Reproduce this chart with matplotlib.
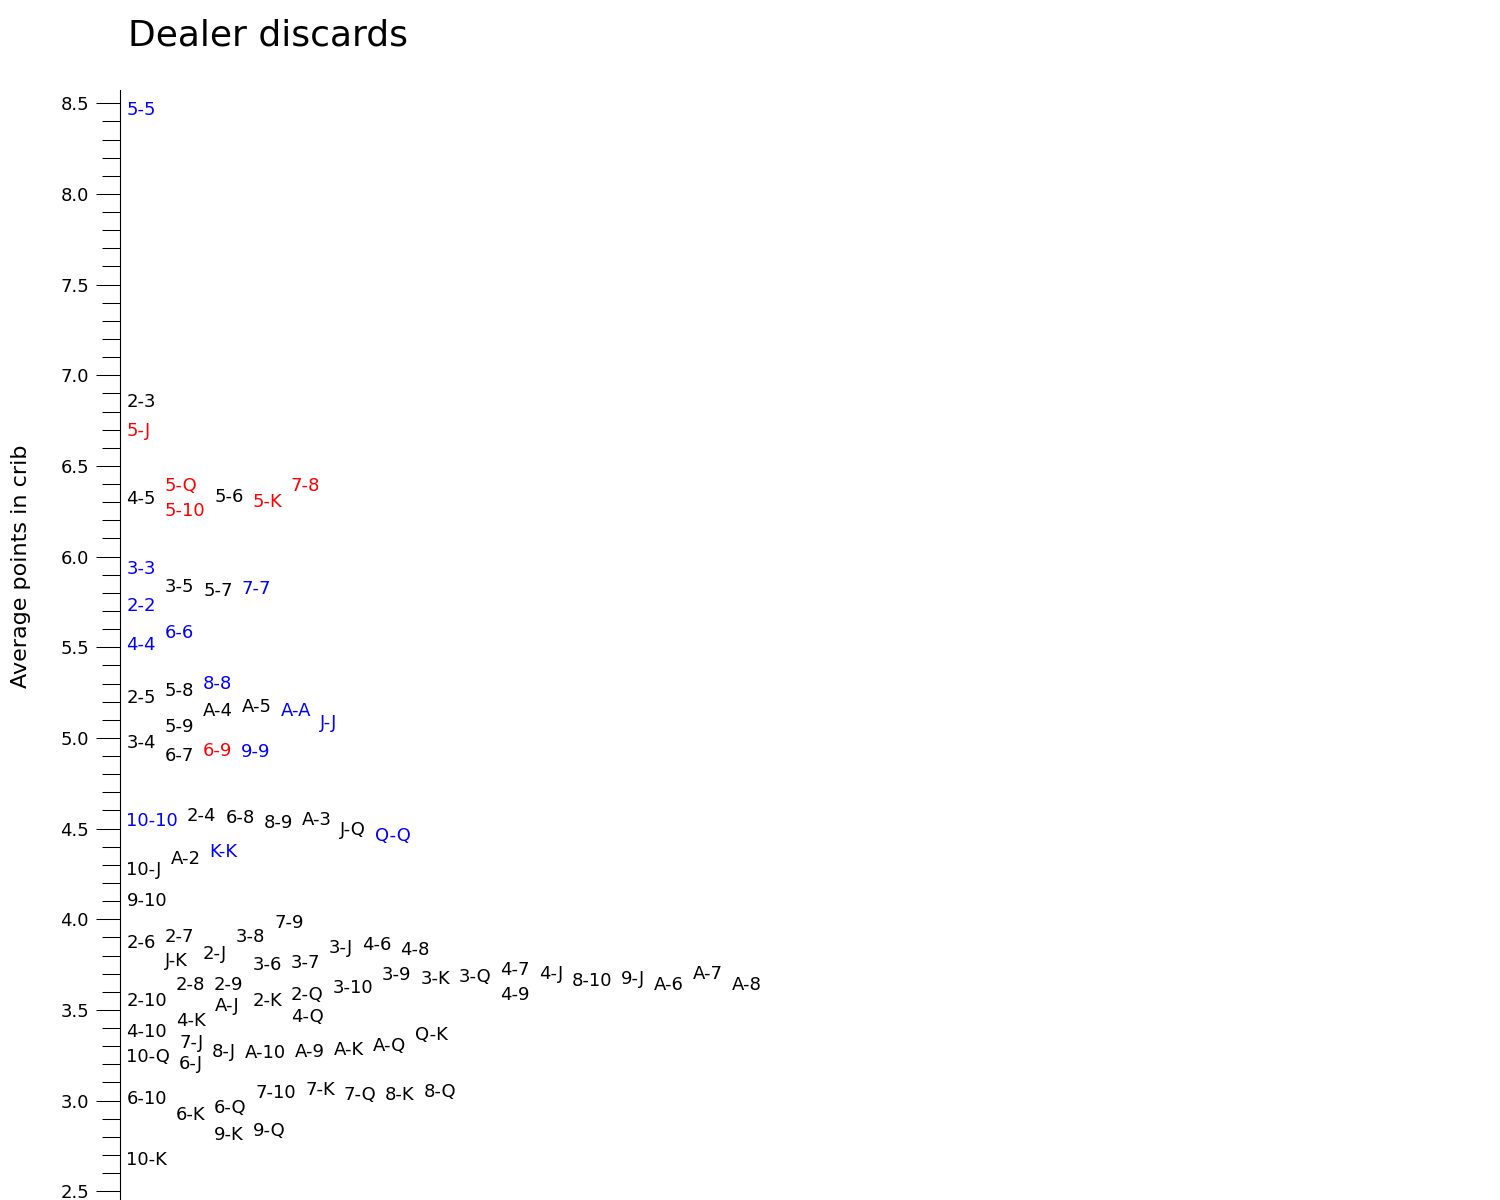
import matplotlib
matplotlib.use("Agg")
import matplotlib.pyplot as plt
from matplotlib.ticker import MultipleLocator, FormatStrFormatter

# discard pairs, listed in the order they are laid out (left to right)
pairs = ["5-5", "2-3", "5-J", "4-5", "3-3", "2-2", "4-4", "2-5", "3-4", "10-10",
         "10-J", "9-10", "2-6", "2-10", "4-10", "10-Q", "6-10", "10-K",
         "5-Q", "5-10", "3-5", "6-6", "5-8", "5-9", "6-7", "2-7", "J-K",
         "A-2", "2-8", "4-K", "6-K", "7-J", "6-J", "2-4",
         "5-7", "8-8", "A-4", "6-9", "2-J", "K-K", "8-J",
         "5-6", "2-9", "A-J", "6-Q", "9-K", "6-8", "3-8",
         "7-7", "A-5", "9-9", "A-10", "5-K", "3-6", "2-K", "9-Q", "7-10",
         "8-9", "7-9", "A-A", "7-8", "3-7", "2-Q", "4-Q", "A-9", "A-3", "7-K",
         "J-J", "3-J", "3-10", "A-K", "J-Q", "7-Q", "4-6", "A-Q", "Q-Q",
         "3-9", "8-K", "4-8", "Q-K", "3-K", "8-Q", "3-Q", "4-7", "4-9",
         "4-J", "8-10", "9-J", "A-6", "A-7", "A-8"]
points = [8.46, 6.85, 6.69, 6.32, 5.93, 5.73, 5.51, 5.22, 4.97, 4.54,
          4.27, 4.10, 3.87, 3.55, 3.38, 3.24, 3.01, 2.67,
          6.39, 6.25, 5.83, 5.58, 5.26, 5.06, 4.90, 3.90, 3.77,
          4.33, 3.64, 3.44, 2.92, 3.32, 3.20, 4.57,
          5.81, 5.30, 5.15, 4.93, 3.81, 4.37, 3.27,
          6.33, 3.64, 3.52, 2.96, 2.81, 4.56, 3.90,
          5.82, 5.17, 4.92, 3.26, 6.30, 3.75, 3.55, 2.83, 3.04,
          4.53, 3.98, 5.15, 6.39, 3.76, 3.58, 3.46, 3.27, 4.55, 3.06,
          5.08, 3.84, 3.62, 3.28, 4.49, 3.03, 3.86, 3.30, 4.46,
          3.69, 3.03, 3.83, 3.36, 3.67, 3.05, 3.68, 3.72, 3.58,
          3.70, 3.66, 3.67, 3.64, 3.70, 3.64]

title = "Dealer discards"
ylabel = "Average points in crib"

# counting value of each rank, used to spot fifteens
count_value = {"A": 1, "2": 2, "3": 3, "4": 4, "5": 5, "6": 6, "7": 7,
               "8": 8, "9": 9, "10": 10, "J": 10, "Q": 10, "K": 10}


def colour(pair):
    a, b = pair.split("-")
    if a == b:
        return "#0000ff"
    if count_value[a] + count_value[b] == 15:
        return "#ff0000"
    return "black"


plt.rcParams["font.family"] = ["DejaVu Sans"]

fig = plt.figure(figsize=(15, 12), dpi=100)
# one x unit = one pixel, so labels can be shoved right by their widths
ax = fig.add_axes([120 / 1500, 0.0, 1380 / 1500, 1110 / 1200])
ax.set_xlim(0, 1380)
ax.set_ylim(2.452, 8.573)
for s in ["top", "right", "bottom"]:
    ax.spines[s].set_visible(False)
ax.spines["left"].set_linewidth(0.8)
ax.xaxis.set_visible(False)
ax.yaxis.set_major_locator(MultipleLocator(0.5))
ax.yaxis.set_minor_locator(MultipleLocator(0.1))
ax.yaxis.set_major_formatter(FormatStrFormatter("%.1f"))
ax.tick_params(axis="y", which="major", length=17.3, width=0.75, pad=5, labelsize=13)
ax.tick_params(axis="y", which="minor", length=13, width=0.75)

texts = []
for p, v in zip(pairs, points):
    t = ax.text(0, v, p, color=colour(p), fontsize=13, ha="left", va="center")
    texts.append(t)

fig.canvas.draw()
renderer = fig.canvas.get_renderer()
widths = [t.get_window_extent(renderer).width for t in texts]

### greedy layout: a label goes right of every earlier label it would collide with
x0 = 6.5
gap = 8.8
near = 0.116
placed = []
for t, v, w in zip(texts, points, widths):
    x = x0
    for xj, vj, wj in placed:
        if abs(v - vj) < near:
            x = max(x, xj + wj + gap)
    t.set_x(x)
    placed.append((x, v, w))

fig.text(128 / 1500, 1 - 45 / 1200, title, fontsize=26, ha="left", va="baseline")
fig.text(21 / 1500, 1 - 566 / 1200, ylabel, fontsize=16, rotation=90,
         ha="center", va="center")

fig.savefig("out.png", dpi=100)
